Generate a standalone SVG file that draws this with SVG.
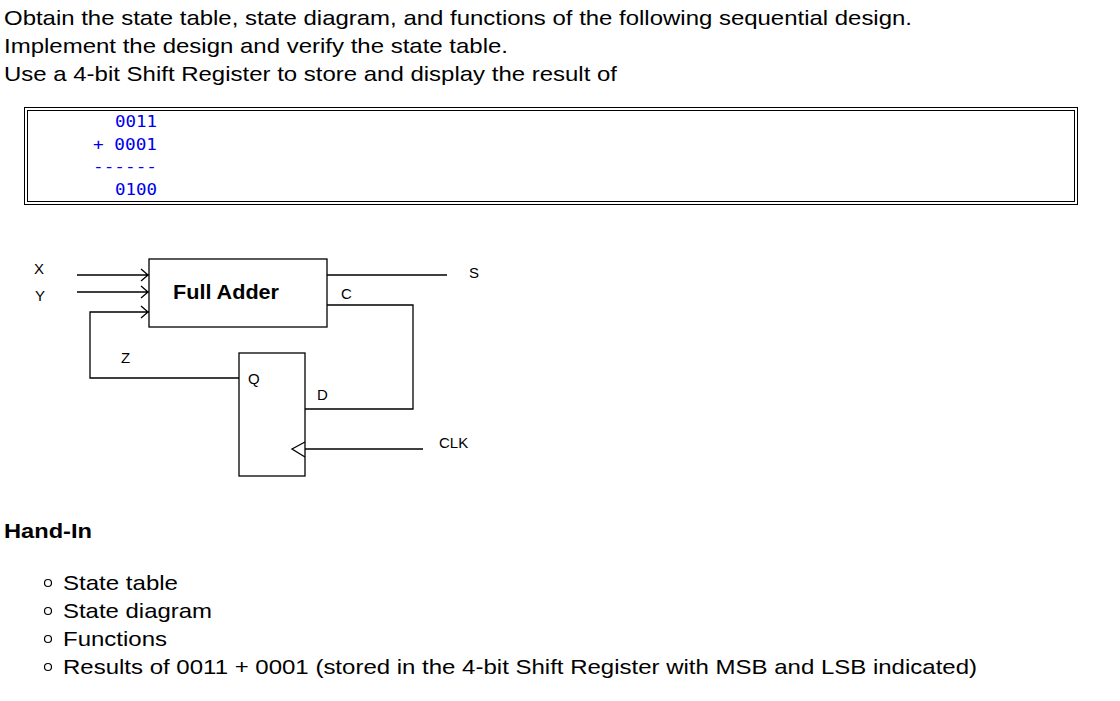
<svg xmlns="http://www.w3.org/2000/svg" width="1120" height="701" viewBox="0 0 1120 701">
<style>
.t{font-family:"Liberation Sans",Arial,sans-serif;font-size:21px;fill:#000}
.m{font-family:"DejaVu Sans Mono","Liberation Mono",monospace;font-size:15px;fill:#0000ee}
.d{font-family:"Liberation Sans",Arial,sans-serif;font-size:15px;fill:#000}
.w{stroke:#000;stroke-width:1.3;fill:none}
</style>
<rect width="1120" height="701" fill="#fff"/>
<text class="t" x="4" y="25" textLength="908" lengthAdjust="spacingAndGlyphs">Obtain the state table, state diagram, and functions of the following sequential design.</text>
<text class="t" x="4" y="53" textLength="504" lengthAdjust="spacingAndGlyphs">Implement the design and verify the state table.</text>
<text class="t" x="4" y="81" textLength="613" lengthAdjust="spacingAndGlyphs">Use a 4-bit Shift Register to store and display the result of</text>
<rect x="24.5" y="107.5" width="1053" height="97" fill="none" stroke="#000" stroke-width="1"/>
<rect x="27.5" y="110.5" width="1047" height="91" fill="none" stroke="#000" stroke-width="1"/>
<text class="m" x="115" y="127" textLength="42" lengthAdjust="spacingAndGlyphs">0011</text>
<text class="m" xml:space="preserve" x="93" y="150" textLength="64" lengthAdjust="spacingAndGlyphs">+ 0001</text>
<text class="m" x="93" y="172" textLength="64" lengthAdjust="spacingAndGlyphs">------</text>
<text class="m" x="115" y="195" textLength="42" lengthAdjust="spacingAndGlyphs">0100</text>
<g id="fulladder"><rect class="w" x="149" y="259" width="178" height="68"/><text x="173" y="299" textLength="106" lengthAdjust="spacingAndGlyphs" style="font-family:'Liberation Sans',Arial,sans-serif;font-size:20px;font-weight:bold">Full Adder</text></g>
<g id="flipflop"><rect class="w" x="239" y="353" width="66" height="123"/><path class="w" d="M305 442 L292 449 L305 457"/></g>
<g id="connectors">
<path class="w" d="M77 275 H149 M141 269 L148 275 L141 281"/>
<path class="w" d="M77 292 H149 M141 286 L148 292 L141 298"/>
<path class="w" d="M239 378 H90 V312 H149 M141 306 L148 312 L141 318"/>
<path class="w" d="M327 275 H447"/>
<path class="w" d="M327 305 H413 V409 H305"/>
<path class="w" d="M305 449 H423"/>
</g>
<text class="d" x="34" y="274">X</text>
<text class="d" x="35" y="301">Y</text>
<text class="d" x="469" y="278">S</text>
<text class="d" x="341" y="299">C</text>
<text class="d" x="121" y="363">Z</text>
<text class="d" x="248" y="384">Q</text>
<text class="d" x="317" y="400">D</text>
<text class="d" x="439" y="448">CLK</text>
<text class="t" x="4" y="538" font-weight="bold" textLength="88" lengthAdjust="spacingAndGlyphs">Hand-In</text>
<g fill="none" stroke="#000" stroke-width="1.2"><circle cx="48" cy="583" r="3.5"/><circle cx="48" cy="611" r="3.5"/><circle cx="48" cy="639" r="3.5"/><circle cx="48" cy="667" r="3.5"/></g>
<text class="t" x="63" y="590" textLength="115" lengthAdjust="spacingAndGlyphs">State table</text>
<text class="t" x="63" y="618" textLength="149" lengthAdjust="spacingAndGlyphs">State diagram</text>
<text class="t" x="63" y="646" textLength="104" lengthAdjust="spacingAndGlyphs">Functions</text>
<text class="t" x="63" y="674" textLength="914" lengthAdjust="spacingAndGlyphs">Results of 0011 + 0001 (stored in the 4-bit Shift Register with MSB and LSB indicated)</text>
</svg>
